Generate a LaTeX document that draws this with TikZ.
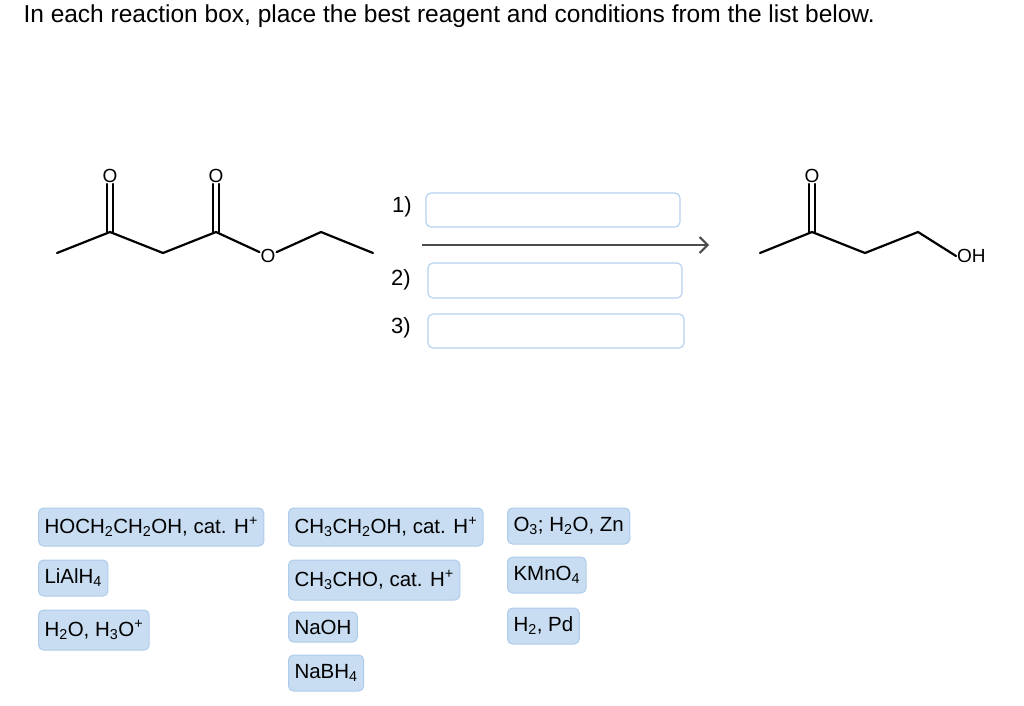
\documentclass[tikz,border=0pt]{standalone}
\usepackage{fontspec}
\setmainfont{Liberation Sans}
\usetikzlibrary{arrows.meta}
\definecolor{chipfill}{HTML}{C8DDF1}
\definecolor{chipline}{HTML}{AECBEA}
\definecolor{boxline}{HTML}{B5D2F0}
\newcommand{\sbs}[1]{\textsubscript{#1}}
\newcommand{\sps}[1]{\textsuperscript{#1}}
\begin{document}
\begin{tikzpicture}[x=1pt,y=-1pt,
  bond/.style={line width=2.2pt,line cap=round},
  atom/.style={font=\fontsize{19}{19}\selectfont,inner sep=1pt,fill=white},
  ansbox/.style={draw=boxline,line width=1.2pt,rounded corners=5pt},
  chip/.style={fill=chipfill,draw=chipline,line width=1pt,rounded corners=5pt,anchor=west,minimum height=36pt,inner xsep=6pt,font=\fontsize{20.5}{20.5}\selectfont},
  num/.style={font=\fontsize{22}{22}\selectfont}]
\useasboundingbox (0,0) rectangle (1024,705);
\node[anchor=west,font=\fontsize{24.5}{24.5}\selectfont] (title) at (20,16) {In each reaction box, place the best reagent and conditions from the list below.};
% reactant
\coordinate (a1) at (57,253); \coordinate (a2) at (110,232); \coordinate (a3) at (163,253);
\coordinate (a4) at (216,232); \coordinate (a6) at (321,232); \coordinate (a7) at (373,253);
\node[atom] (o1) at (110,176) {O}; \node[atom] (o2) at (216,176) {O}; \node[atom] (o3) at (268,256) {O};
\draw[bond] (a1)--(a2)--(a3)--(a4)--(o3)--(a6)--(a7);
\draw[bond] ([xshift=-3pt]a2)--([xshift=-3pt]o1.south); \draw[bond] ([xshift=3pt]a2)--([xshift=3pt]o1.south);
\draw[bond] ([xshift=-3pt]a4)--([xshift=-3pt]o2.south); \draw[bond] ([xshift=3pt]a4)--([xshift=3pt]o2.south);
% arrow
\coordinate (r0) at (422,245); \coordinate (r1) at (709,245);
\draw[line width=2pt,draw=black!70,-{Straight Barb[length=8pt,width=16pt]}] (r0)--(r1);
\draw[ansbox] (426,193) rectangle (680,227);
\draw[ansbox] (428,263) rectangle (682,298);
\draw[ansbox] (428,314) rectangle (684,348);
\node[num] (n1) at (402,207) {1)}; \node[num] (n2) at (401,280) {2)}; \node[num] (n3) at (401,328) {3)};
% product
\coordinate (p1) at (760,253); \coordinate (p2) at (812,232); \coordinate (p3) at (865,253); \coordinate (p4) at (918,232);
\node[atom] (po) at (812,176) {O}; \node[atom,anchor=west] (oh) at (956,256) {OH};
\draw[bond] (p1)--(p2)--(p3)--(p4)--(oh.west);
\draw[bond] ([xshift=-3pt]p2)--([xshift=-3pt]po.south); \draw[bond] ([xshift=3pt]p2)--([xshift=3pt]po.south);
% chips
\node[chip,minimum height=38pt] (c1) at (38,527) {HOCH\sbs{2}CH\sbs{2}OH, cat. H\sps{+}};
\node[chip,minimum height=38pt] (c2) at (288,527) {CH\sbs{3}CH\sbs{2}OH, cat. H\sps{+}};
\node[chip] (c3) at (507,526) {O\sbs{3}; H\sbs{2}O, Zn};
\node[chip] (c4) at (38,578) {LiAlH\sbs{4}};
\node[chip,minimum height=40pt] (c5) at (288,580) {CH\sbs{3}CHO, cat. H\sps{+}};
\node[chip] (c6) at (507,575) {KMnO\sbs{4}};
\node[chip,minimum height=40pt] (c7) at (38,630) {H\sbs{2}O, H\sbs{3}O\sps{+}};
\node[chip,minimum height=30pt] (c8) at (288,627) {NaOH};
\node[chip] (c9) at (507,626) {H\sbs{2}, Pd};
\node[chip] (c10) at (288,673) {NaBH\sbs{4}};
\end{tikzpicture}
\end{document}
